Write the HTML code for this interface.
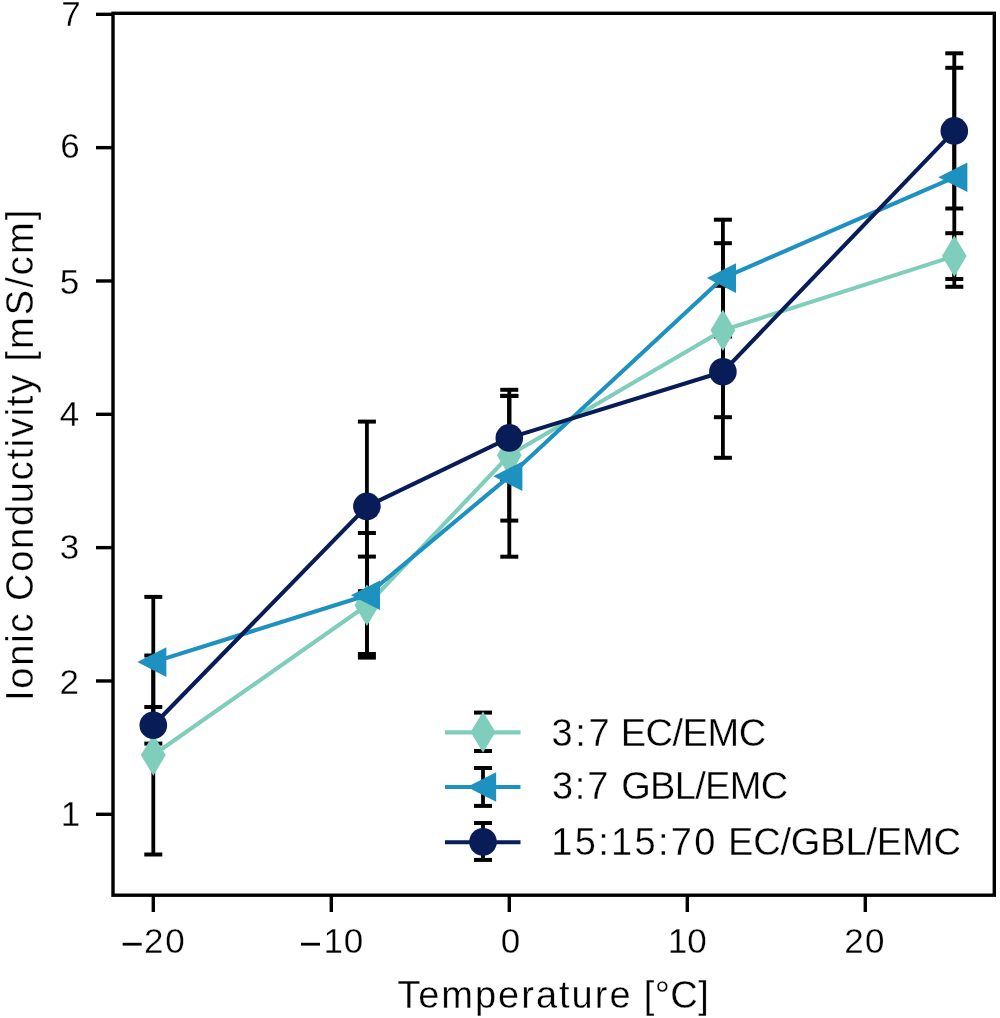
<!DOCTYPE html>
<html><head><meta charset="utf-8"><style>
html,body{margin:0;padding:0;background:#fff;}
svg{display:block;}
#w{will-change:transform;width:1000px;height:1018px;}
text{font-family:"Liberation Sans",sans-serif;fill:#000;stroke:#fff;stroke-width:0.3px;}
</style></head><body>
<div id="w"><svg width="1000" height="1018" viewBox="0 0 1000 1018">
<rect width="1000" height="1018" fill="#fff"/>
<line x1="153.3" y1="655.5" x2="153.3" y2="854.5" stroke="#000" stroke-width="3.8"/>
<line x1="144.3" y1="655.5" x2="162.3" y2="655.5" stroke="#000" stroke-width="4.0"/>
<line x1="144.3" y1="854.5" x2="162.3" y2="854.5" stroke="#000" stroke-width="4.0"/>
<line x1="366.9" y1="556.6" x2="366.9" y2="654" stroke="#000" stroke-width="3.8"/>
<line x1="357.9" y1="556.6" x2="375.9" y2="556.6" stroke="#000" stroke-width="4.0"/>
<line x1="357.9" y1="654" x2="375.9" y2="654" stroke="#000" stroke-width="4.0"/>
<line x1="509.3" y1="389.8" x2="509.3" y2="520.6" stroke="#000" stroke-width="3.8"/>
<line x1="500.3" y1="389.8" x2="518.3" y2="389.8" stroke="#000" stroke-width="4.0"/>
<line x1="500.3" y1="520.6" x2="518.3" y2="520.6" stroke="#000" stroke-width="4.0"/>
<line x1="722.9" y1="243.2" x2="722.9" y2="417.2" stroke="#000" stroke-width="3.8"/>
<line x1="713.9" y1="243.2" x2="731.9" y2="243.2" stroke="#000" stroke-width="4.0"/>
<line x1="713.9" y1="417.2" x2="731.9" y2="417.2" stroke="#000" stroke-width="4.0"/>
<line x1="954.3" y1="233.2" x2="954.3" y2="279" stroke="#000" stroke-width="3.8"/>
<line x1="945.3" y1="233.2" x2="963.3" y2="233.2" stroke="#000" stroke-width="4.0"/>
<line x1="945.3" y1="279" x2="963.3" y2="279" stroke="#000" stroke-width="4.0"/>
<line x1="153.3" y1="596.9" x2="153.3" y2="727.3" stroke="#000" stroke-width="3.8"/>
<line x1="144.3" y1="596.9" x2="162.3" y2="596.9" stroke="#000" stroke-width="4.0"/>
<line x1="144.3" y1="727.3" x2="162.3" y2="727.3" stroke="#000" stroke-width="4.0"/>
<line x1="366.9" y1="533" x2="366.9" y2="657.6" stroke="#000" stroke-width="3.8"/>
<line x1="357.9" y1="533" x2="375.9" y2="533" stroke="#000" stroke-width="4.0"/>
<line x1="357.9" y1="657.6" x2="375.9" y2="657.6" stroke="#000" stroke-width="4.0"/>
<line x1="509.3" y1="395.9" x2="509.3" y2="556.7" stroke="#000" stroke-width="3.8"/>
<line x1="500.3" y1="395.9" x2="518.3" y2="395.9" stroke="#000" stroke-width="4.0"/>
<line x1="500.3" y1="556.7" x2="518.3" y2="556.7" stroke="#000" stroke-width="4.0"/>
<line x1="722.9" y1="219.7" x2="722.9" y2="336.5" stroke="#000" stroke-width="3.8"/>
<line x1="713.9" y1="219.7" x2="731.9" y2="219.7" stroke="#000" stroke-width="4.0"/>
<line x1="713.9" y1="336.5" x2="731.9" y2="336.5" stroke="#000" stroke-width="4.0"/>
<line x1="954.3" y1="67.8" x2="954.3" y2="286.8" stroke="#000" stroke-width="3.8"/>
<line x1="945.3" y1="67.8" x2="963.3" y2="67.8" stroke="#000" stroke-width="4.0"/>
<line x1="945.3" y1="286.8" x2="963.3" y2="286.8" stroke="#000" stroke-width="4.0"/>
<line x1="153.3" y1="707" x2="153.3" y2="743.6" stroke="#000" stroke-width="3.8"/>
<line x1="144.3" y1="707" x2="162.3" y2="707" stroke="#000" stroke-width="4.0"/>
<line x1="144.3" y1="743.6" x2="162.3" y2="743.6" stroke="#000" stroke-width="4.0"/>
<line x1="366.9" y1="421.6" x2="366.9" y2="591.2" stroke="#000" stroke-width="3.8"/>
<line x1="357.9" y1="421.6" x2="375.9" y2="421.6" stroke="#000" stroke-width="4.0"/>
<line x1="357.9" y1="591.2" x2="375.9" y2="591.2" stroke="#000" stroke-width="4.0"/>
<line x1="509.3" y1="395.9" x2="509.3" y2="479.9" stroke="#000" stroke-width="3.8"/>
<line x1="500.3" y1="395.9" x2="518.3" y2="395.9" stroke="#000" stroke-width="4.0"/>
<line x1="500.3" y1="479.9" x2="518.3" y2="479.9" stroke="#000" stroke-width="4.0"/>
<line x1="722.9" y1="285.8" x2="722.9" y2="457.8" stroke="#000" stroke-width="3.8"/>
<line x1="713.9" y1="285.8" x2="731.9" y2="285.8" stroke="#000" stroke-width="4.0"/>
<line x1="713.9" y1="457.8" x2="731.9" y2="457.8" stroke="#000" stroke-width="4.0"/>
<line x1="954.3" y1="53.3" x2="954.3" y2="208.5" stroke="#000" stroke-width="3.8"/>
<line x1="945.3" y1="53.3" x2="963.3" y2="53.3" stroke="#000" stroke-width="4.0"/>
<line x1="945.3" y1="208.5" x2="963.3" y2="208.5" stroke="#000" stroke-width="4.0"/>
<polyline points="153.3,755 366.9,605.3 509.3,455.2 722.9,330.2 954.3,256.1" fill="none" stroke="#7fcdbb" stroke-width="4.1" stroke-linejoin="round" stroke-linecap="butt"/>
<polygon points="153.3,734.3 165.7,755 153.3,775.7 140.9,755" fill="#7fcdbb"/>
<polygon points="366.9,584.6 379.3,605.3 366.9,626 354.5,605.3" fill="#7fcdbb"/>
<polygon points="509.3,434.5 521.7,455.2 509.3,475.9 496.9,455.2" fill="#7fcdbb"/>
<polygon points="722.9,309.5 735.3,330.2 722.9,350.9 710.5,330.2" fill="#7fcdbb"/>
<polygon points="954.3,235.4 966.7,256.1 954.3,276.8 941.9,256.1" fill="#7fcdbb"/>
<polyline points="153.3,662.1 366.9,595.3 509.3,476.3 722.9,278.1 954.3,177.3" fill="none" stroke="#1d91c0" stroke-width="4.1" stroke-linejoin="round" stroke-linecap="butt"/>
<polygon points="137.3,662.1 166.4,647.3 166.4,676.9" fill="#1d91c0"/>
<polygon points="350.9,595.3 380,580.5 380,610.1" fill="#1d91c0"/>
<polygon points="493.3,476.3 522.4,461.5 522.4,491.1" fill="#1d91c0"/>
<polygon points="706.9,278.1 736,263.3 736,292.9" fill="#1d91c0"/>
<polygon points="938.3,177.3 967.4,162.5 967.4,192.1" fill="#1d91c0"/>
<polyline points="153.3,725.3 366.9,506.4 509.3,437.9 722.9,371.8 954.3,130.9" fill="none" stroke="#081d58" stroke-width="4.1" stroke-linejoin="round" stroke-linecap="butt"/>
<circle cx="153.3" cy="725.3" r="13.8" fill="#081d58"/>
<circle cx="366.9" cy="506.4" r="13.8" fill="#081d58"/>
<circle cx="509.3" cy="437.9" r="13.8" fill="#081d58"/>
<circle cx="722.9" cy="371.8" r="13.8" fill="#081d58"/>
<circle cx="954.3" cy="130.9" r="13.8" fill="#081d58"/>
<rect x="113" y="13.3" width="881.3" height="881.9" fill="none" stroke="#000" stroke-width="3.4"/>
<line x1="96" y1="814.3" x2="113" y2="814.3" stroke="#000" stroke-width="3.4"/>
<line x1="96" y1="680.97" x2="113" y2="680.97" stroke="#000" stroke-width="3.4"/>
<line x1="96" y1="547.64" x2="113" y2="547.64" stroke="#000" stroke-width="3.4"/>
<line x1="96" y1="414.31" x2="113" y2="414.31" stroke="#000" stroke-width="3.4"/>
<line x1="96" y1="280.98" x2="113" y2="280.98" stroke="#000" stroke-width="3.4"/>
<line x1="96" y1="147.65" x2="113" y2="147.65" stroke="#000" stroke-width="3.4"/>
<line x1="96" y1="14.32" x2="113" y2="14.32" stroke="#000" stroke-width="3.4"/>
<line x1="153.3" y1="895.2" x2="153.3" y2="912" stroke="#000" stroke-width="3.4"/>
<line x1="331.3" y1="895.2" x2="331.3" y2="912" stroke="#000" stroke-width="3.4"/>
<line x1="509.3" y1="895.2" x2="509.3" y2="912" stroke="#000" stroke-width="3.4"/>
<line x1="687.3" y1="895.2" x2="687.3" y2="912" stroke="#000" stroke-width="3.4"/>
<line x1="865.3" y1="895.2" x2="865.3" y2="912" stroke="#000" stroke-width="3.4"/>
<text x="551.58" y="745.6" font-size="38" textLength="58" lengthAdjust="spacing">3:7</text>
<text x="620.75" y="745.6" font-size="38" textLength="145.33" lengthAdjust="spacing">EC/EMC</text>
<text x="551.89" y="799.4" font-size="38" textLength="56.4" lengthAdjust="spacing">3:7</text>
<text x="621.15" y="799.4" font-size="38" textLength="167.02" lengthAdjust="spacing">GBL/EMC</text>
<text x="551.24" y="854.8" font-size="38" textLength="164.24" lengthAdjust="spacing">15:15:70</text>
<text x="728" y="854.8" font-size="38" textLength="232.87" lengthAdjust="spacing">EC/GBL/EMC</text>
<text x="397.19" y="1008.4" font-size="38" textLength="233.35" lengthAdjust="spacing">Temperature</text>
<text x="643.71" y="1008.4" font-size="38" textLength="65.01" lengthAdjust="spacing">[°C]</text>
<text transform="translate(32.9,701) rotate(-90)" x="0" y="0" font-size="38" textLength="87.53" lengthAdjust="spacing">Ionic</text>
<text transform="translate(32.9,600.99) rotate(-90)" x="0" y="0" font-size="38" textLength="226.17" lengthAdjust="spacing">Conductivity</text>
<text transform="translate(32.9,361.62) rotate(-90)" x="0" y="0" font-size="38" textLength="151.86" lengthAdjust="spacing">[mS/cm]</text>
<text x="144" y="953" font-size="35">2</text>
<text x="165.27" y="953" font-size="35">0</text>
<text x="323.43" y="953" font-size="35">1</text>
<text x="343.72" y="953" font-size="35">0</text>
<text x="500.72" y="953" font-size="35">0</text>
<text x="667.85" y="953" font-size="35">1</text>
<text x="687.33" y="953" font-size="35">0</text>
<text x="844.31" y="953" font-size="35">2</text>
<text x="864.88" y="953" font-size="35">0</text>
<text x="61.13" y="25.75" font-size="35">7</text>
<text x="60.14" y="158.25" font-size="35">6</text>
<text x="59.84" y="293.7" font-size="35">5</text>
<text x="59.87" y="425.75" font-size="35">4</text>
<text x="59.81" y="559" font-size="35">3</text>
<text x="59.51" y="693.5" font-size="35">2</text>
<text x="60.68" y="826" font-size="35">1</text>
<rect x="122.65" y="942.8" width="19.05" height="2.8" fill="#000"/>
<rect x="300.95" y="942.8" width="19.05" height="2.8" fill="#000"/>
<line x1="483" y1="712.6" x2="483" y2="751" stroke="#000" stroke-width="3.8"/>
<line x1="474" y1="712.6" x2="492" y2="712.6" stroke="#000" stroke-width="4.0"/>
<line x1="474" y1="751" x2="492" y2="751" stroke="#000" stroke-width="4.0"/>
<line x1="445" y1="732.4" x2="520.5" y2="732.4" stroke="#7fcdbb" stroke-width="4.1"/>
<polygon points="483,711.4 495.4,732.1 483,752.8 470.6,732.1" fill="#7fcdbb"/>
<line x1="483" y1="768" x2="483" y2="805.9" stroke="#000" stroke-width="3.8"/>
<line x1="474" y1="768" x2="492" y2="768" stroke="#000" stroke-width="4.0"/>
<line x1="474" y1="805.9" x2="492" y2="805.9" stroke="#000" stroke-width="4.0"/>
<line x1="445" y1="787" x2="520.5" y2="787" stroke="#1d91c0" stroke-width="4.1"/>
<polygon points="467,786.98 496.1,772.18 496.1,801.77" fill="#1d91c0"/>
<line x1="483" y1="823" x2="483" y2="859.9" stroke="#000" stroke-width="3.8"/>
<line x1="474" y1="823" x2="492" y2="823" stroke="#000" stroke-width="4.0"/>
<line x1="474" y1="859.9" x2="492" y2="859.9" stroke="#000" stroke-width="4.0"/>
<line x1="445" y1="842.3" x2="520.5" y2="842.3" stroke="#081d58" stroke-width="4.1"/>
<circle cx="483" cy="841.88" r="13.8" fill="#081d58"/>
</svg></div></body></html>
